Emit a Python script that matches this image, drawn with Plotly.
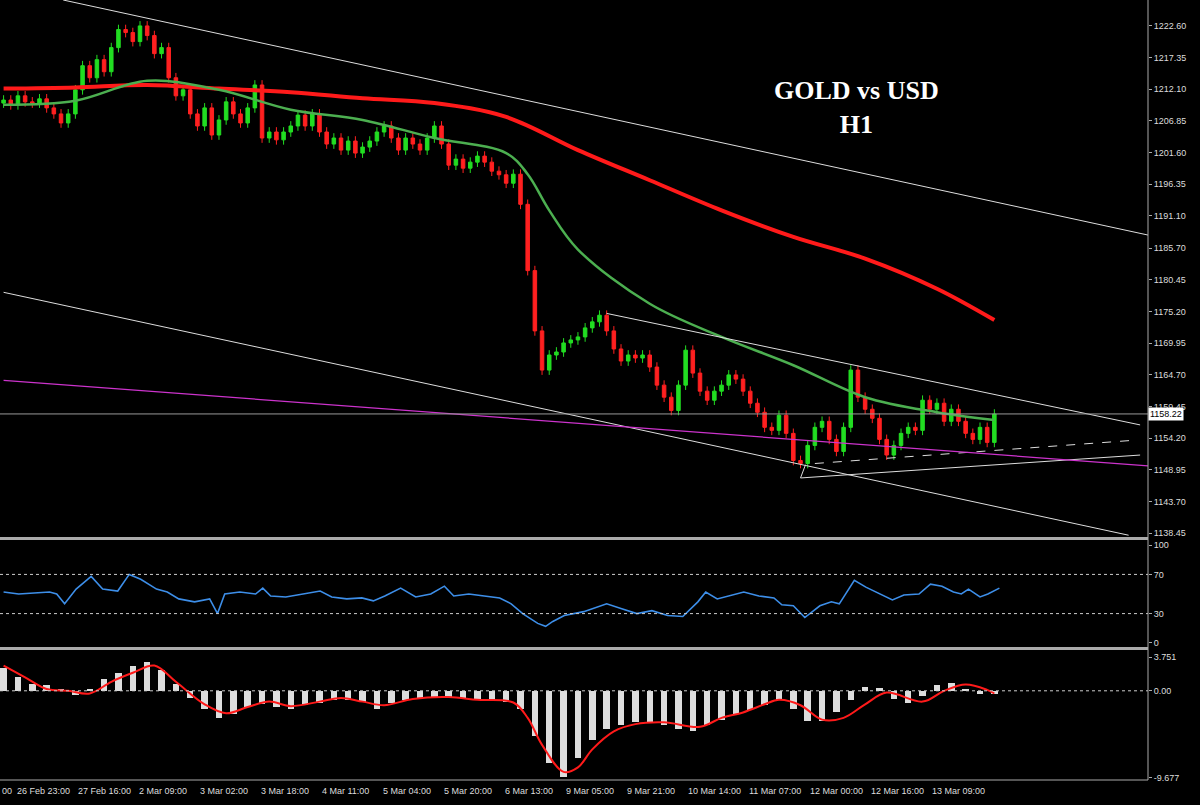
import plotly.graph_objects as go

# hourly-ish closes (each candle ~2h)
closes = [1210.3, 1209.5, 1211, 1210, 1209.8, 1210.5, 1209, 1208, 1206.5, 1208,
          1212, 1216, 1214, 1217, 1215, 1219, 1222, 1221.5, 1220, 1222.6,
          1221, 1218, 1219, 1214, 1211, 1212, 1208, 1206, 1209, 1204.5,
          1207, 1210, 1208, 1206.5, 1209, 1212.8, 1204, 1205, 1203.7, 1205,
          1206, 1207.8, 1206, 1208, 1205, 1203, 1204, 1202, 1203.5, 1201.5,
          1202.5, 1203.5, 1205, 1206, 1204, 1202, 1204, 1203, 1202, 1204,
          1206, 1203, 1199.5, 1200.5, 1199, 1200, 1201, 1200, 1198.5, 1197.9,
          1196.5, 1198, 1193, 1182, 1172, 1165.5, 1168, 1168.5, 1170, 1170.5,
          1171, 1172.5, 1173.5, 1174.6, 1172, 1169, 1167, 1168, 1167.5, 1168,
          1166, 1163, 1161, 1158.8, 1163, 1168.8, 1165, 1162, 1160.5, 1162,
          1163, 1164.7, 1164, 1162, 1160, 1158.5, 1156, 1155.5, 1158, 1155,
          1150.5, 1150, 1153, 1156, 1157, 1154, 1152, 1156, 1165.5, 1161,
          1159, 1157.5, 1154, 1151.4, 1153, 1155, 1156, 1155.5, 1160.5, 1159,
          1160, 1157, 1159, 1157, 1155, 1154, 1156, 1153.5, 1158.2]
first_open = 1209.8
last_price = 1158.22

# moving averages (bar, price)
ma200_bar = [0, 10, 20, 30, 40, 50, 60, 70, 80, 90, 100, 110, 120, 130, 138]
ma200_val = [1212.2, 1212.4, 1212.8, 1212.2, 1211.6, 1210.6, 1209.8, 1207.5, 1202, 1197,
             1192, 1187.6, 1184, 1179, 1173.8]
ma50_bar = [0, 10, 20, 30, 40, 50, 60, 70, 73, 76, 80, 90, 100, 110, 120, 130, 138]
ma50_val = [1209.5, 1210.2, 1213.5, 1212, 1208.7, 1207, 1204, 1201.5, 1198, 1192, 1185.5,
            1176.5, 1171, 1166.3, 1161, 1158.5, 1157.2]

# drawn lines: (bar0, price0, bar1, price1)
trend_lines = [(8.3, 1226.9, 159.4, 1187.9), (0, 1178.4, 156.7, 1138.1),
               (84, 1174.9, 158.3, 1156.4), (111, 1147.6, 158.3, 1151.4),
               (111, 1147.6, 111.7, 1149.8)]
dashed_lines = [(113, 1150.0, 158, 1153.9)]
support_line = (0, 1163.8, 159.4, 1149.6)

rsi_bar = [0, 2.1, 6.4, 7.4, 8.5, 10.1, 12.2, 13.8, 15.9, 17.5, 19.1, 21.3, 22.8, 24.4, 26.6,
           28.7, 29.8, 30.8, 32.9, 35.1, 36.1, 37.2, 39.3, 42.5, 44.1, 45.7, 47.8, 49.9, 51.5,
           53.1, 55.3, 57.4, 59.5, 61.4, 62.7, 64.8, 67, 69.1, 70.7, 72.3, 74.4, 75.5, 76.5,
           78.1, 80.8, 84, 86.1, 88.2, 90.3, 92.5, 94.6, 96.7, 97.8, 99.4, 103.1, 105.2, 107.3,
           108.4, 110, 111.6, 113.7, 115.3, 116.4, 118.5, 120.1, 122.2, 123.8, 125.4, 127.5,
           129.1, 130.7, 132.3, 133.4, 134.4, 136, 137.1, 138.7]
rsi_val = [52, 50, 52, 50, 40, 55, 68, 55, 53, 70, 65, 55, 52, 45, 42,
           45, 30, 50, 52, 50, 56, 48, 47, 51, 53, 47, 45, 46, 43,
           48, 56, 47, 50, 58, 48, 50, 48, 46, 40, 30, 20, 17, 22,
           28, 32, 40, 35, 30, 33, 28, 27, 42, 52, 45, 52, 48, 46,
           39, 38, 26, 38, 42, 40, 64, 57, 50, 44, 49, 50,
           60, 58, 52, 50, 55, 47, 50, 56]

macd_hist = [2.5, 1.5, 0.8, 0.6, 0.2, -0.5, 0.2, 1.3, 2, 2.8, 3.2, 2.3, 0.8, -0.8, -2, -3,
             -2.6, -1.8, -1.5, -1.8, -2, -1.6, -1.3, -1, -1, -1.2, -2, -1.4, -1, -0.8, -0.8,
             -0.7, -0.8, -0.9, -1, -1.2, -2, -5, -8, -9.6, -7.5, -5.5, -4.2, -3.8, -3.5, -3.5,
             -3.8, -4.2, -4.5, -3.8, -3.2, -2.6, -2.1, -1.6, -1, -2, -3.3, -3.3, -2.3, -1,
             0.4, 0.3, -0.9, -1.3, -0.6, 0.7, 0.9, 0.2, -0.4, -0.4]
sig_bar = [0, 3, 6, 9, 12, 15, 18, 21, 24, 28, 31, 34, 37, 40, 44, 47, 50, 53, 57, 62, 66,
           71, 73, 75, 78, 80, 82, 85, 88, 92, 97, 100, 103, 106, 108, 111, 114, 117, 120,
           123, 128, 131, 134, 137, 138]
sig_val = [2.8, 1.5, 0.2, 0, -0.3, 1, 2, 2.8, 1, -1.5, -2.5, -1.8, -1.2, -1.7, -1.2, -0.8,
           -1.2, -1.6, -0.9, -0.7, -1, -1.3, -3, -6, -9, -8.5, -6.5, -4.5, -3.7, -3.5, -4,
           -3, -2.4, -1.5, -1, -1.6, -3.2, -3, -1.5, -0.2, -1.2, 0, 0.7, 0.1, -0.3]

price_ticks = [1222.60, 1217.35, 1212.10, 1206.85, 1201.60, 1196.35, 1191.10, 1185.70,
               1180.45, 1175.20, 1169.95, 1164.70, 1159.45, 1154.20, 1148.95, 1143.70, 1138.45]
time_labels = ["26 Feb 23:00", "27 Feb 16:00", "2 Mar 09:00", "3 Mar 02:00", "3 Mar 18:00",
               "4 Mar 11:00", "5 Mar 04:00", "5 Mar 20:00", "6 Mar 13:00", "9 Mar 05:00",
               "9 Mar 21:00", "10 Mar 14:00", "11 Mar 07:00", "12 Mar 00:00", "12 Mar 16:00",
               "13 Mar 09:00"]
time_bars = [1.6 + 8.5 * i for i in range(len(time_labels))]

bars = list(range(len(closes)))
opens = [first_open] + closes[:-1]
highs = [max(o, c) + 0.8 for o, c in zip(opens, closes)]
lows = [min(o, c) - 0.8 for o, c in zip(opens, closes)]

fig = go.Figure()
fig.add_trace(go.Candlestick(x=bars, open=opens, high=highs, low=lows, close=closes,
                             increasing=dict(line=dict(color="#22dd22", width=1), fillcolor="#22dd22"),
                             decreasing=dict(line=dict(color="#ff2020", width=1), fillcolor="#ff2020"),
                             whiskerwidth=0, xaxis="x", yaxis="y"))
fig.add_trace(go.Scatter(x=ma200_bar, y=ma200_val, mode="lines", line=dict(color="#ff1a1a", width=4, shape="spline"),
                         xaxis="x", yaxis="y"))
fig.add_trace(go.Scatter(x=ma50_bar, y=ma50_val, mode="lines", line=dict(color="#4caf50", width=2.5, shape="spline"),
                         xaxis="x", yaxis="y"))

for x0, y0, x1, y1 in trend_lines:
    fig.add_shape(type="line", x0=x0, y0=y0, x1=x1, y1=y1, xref="x", yref="y",
                  line=dict(color="#dddddd", width=1))
for x0, y0, x1, y1 in dashed_lines:
    fig.add_shape(type="line", x0=x0, y0=y0, x1=x1, y1=y1, xref="x", yref="y",
                  line=dict(color="#dddddd", width=1, dash="dash"))
fig.add_shape(type="line", x0=support_line[0], y0=support_line[1], x1=support_line[2], y1=support_line[3],
              xref="x", yref="y", line=dict(color="#cc33cc", width=1.3))
fig.add_shape(type="line", x0=0, x1=1, xref="paper", y0=last_price, y1=last_price, yref="y",
              line=dict(color="#999999", width=1))

# RSI
fig.add_trace(go.Scatter(x=rsi_bar, y=rsi_val, mode="lines", line=dict(color="#3d8ee8", width=1.6),
                         xaxis="x2", yaxis="y2"))
for lvl in (70, 30):
    fig.add_shape(type="line", x0=0, x1=1, xref="x2 domain", y0=lvl, y1=lvl, yref="y2",
                  line=dict(color="#cccccc", width=1, dash="dot"))

# MACD
fig.add_trace(go.Bar(x=bars[::2], y=macd_hist, marker=dict(color="#dddddd", line=dict(width=0)),
                     width=0.9, xaxis="x3", yaxis="y3"))
fig.add_trace(go.Scatter(x=sig_bar, y=sig_val, mode="lines", line=dict(color="#ff1a1a", width=2, shape="spline"),
                         xaxis="x3", yaxis="y3"))
fig.add_shape(type="line", x0=0, x1=1, xref="x3 domain", y0=0, y1=0, yref="y3",
              line=dict(color="#cccccc", width=1, dash="dot"))

# panel separators and right border
for yp in (0.3096, 0.1686):
    fig.add_shape(type="line", x0=0, x1=1, xref="paper", y0=yp, y1=yp, yref="paper",
                  line=dict(color="#aaaaaa", width=3))
fig.add_shape(type="line", x0=1, x1=1, xref="paper", y0=0, y1=1, yref="paper",
              line=dict(color="#aaaaaa", width=1))
fig.add_shape(type="line", x0=0, x1=1, xref="paper", y0=0, y1=0, yref="paper",
              line=dict(color="#aaaaaa", width=1))

tickfont = dict(family="Liberation Sans, Arial", size=9, color="#dddddd")
xcommon = dict(range=[-0.5, 159.4], showgrid=False, zeroline=False, showticklabels=False,
               rangeslider=dict(visible=False), fixedrange=True)
ycommon = dict(side="right", showgrid=False, zeroline=False, ticks="outside", ticklen=3,
               tickcolor="#aaaaaa", tickfont=tickfont)

fig.update_layout(
    width=1200, height=805, paper_bgcolor="black", plot_bgcolor="black",
    margin=dict(l=0, r=52, t=0, b=25), showlegend=False, bargap=0,
    xaxis=dict(domain=[0, 1], anchor="y", **xcommon),
    xaxis2=dict(domain=[0, 1], anchor="y2", matches="x", **xcommon),
    xaxis3=dict(domain=[0, 1], anchor="y3", matches="x", **xcommon),
    yaxis=dict(domain=[0.3115, 1], range=[1137.8, 1226.9], tickvals=price_ticks,
               ticktext=[f"{v:.2f}" for v in price_ticks], **ycommon),
    yaxis2=dict(domain=[0.1705, 0.3064], range=[-4.1, 104.1], tickvals=[100, 70, 30, 0], **ycommon),
    yaxis3=dict(domain=[0, 0.1654], range=[-9.9, 4.42], tickvals=[3.751, 0, -9.677],
                ticktext=["3.751", "0.00", "-9.677"], **ycommon),
)

fig.add_annotation(x=1, xref="paper", xanchor="left", y=last_price, yref="y", text=f"{last_price:.2f}",
                   showarrow=False, bgcolor="white", font=dict(family="Liberation Sans, Arial", size=9, color="black"),
                   borderpad=1)
fig.add_annotation(x=0.82, xref="paper", y=0.905, yref="paper", showarrow=False,
                   text="<b>GOLD vs USD<br>H1</b>", align="center",
                   font=dict(family="Liberation Serif, Times New Roman", size=26, color="white"))
fig.add_annotation(x=-0.5, xref="x3", y=-0.005, yref="paper", yanchor="top", xanchor="left",
                   text="00", showarrow=False, font=tickfont)
for tb, lab in zip(time_bars, time_labels):
    fig.add_annotation(x=tb, xref="x3", y=-0.005, yref="paper", yanchor="top", xanchor="left",
                       text=lab, showarrow=False, font=tickfont)

fig.write_html("out.html", config={"displayModeBar": False},
               post_script="document.body.style.margin='0';document.body.style.overflow='hidden';")
